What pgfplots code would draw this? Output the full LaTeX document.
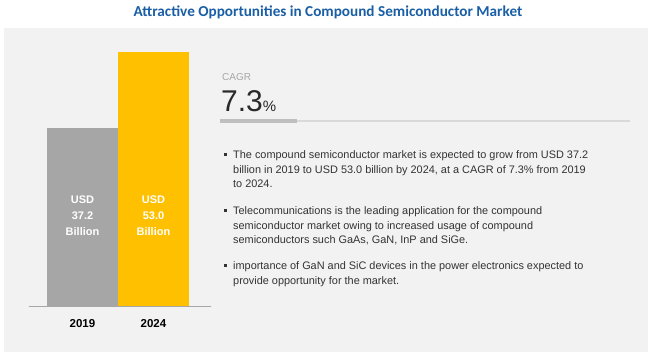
\documentclass[border=0pt]{standalone}
\usepackage{pgfplots}
\pgfplotsset{compat=1.18}
\usepackage{fontspec}
\setmainfont{Liberation Sans}
\newfontfamily\titlefont{Carlito}
\definecolor{titleblue}{HTML}{1A5FA6}
\definecolor{panel}{HTML}{F2F2F2}
\definecolor{bargray}{HTML}{A6A6A6}
\definecolor{baryellow}{HTML}{FFC000}
\definecolor{txt}{HTML}{333333}
\begin{document}
\begin{tikzpicture}
\fill[white] (0pt,0pt) rectangle (650pt,356pt);
\fill[panel] (4pt,4pt) rectangle (648pt,328pt);
\node[font=\titlefont\bfseries\fontsize{15.2}{17}\selectfont, text=titleblue, inner sep=0pt] at (328pt,344pt) {Attractive Opportunities in Compound Semiconductor Market};
\begin{axis}[
  at={(29pt,50pt)}, anchor=south west,
  scale only axis, width=182pt, height=268pt,
  xmin=-0.7535, xmax=1.81, ymin=0, ymax=56,
  enlargelimits=false,
  axis x line=bottom, axis y line=none,
  x axis line style={draw=bargray, line width=0.8pt, -},
  ybar, bar width=71pt, bar shift=0pt,
  xtick={0,1}, xticklabels={2019,2024},
  xtick style={draw=none}, ytick=\empty,
  xticklabel style={font=\bfseries\fontsize{11.5}{13}\selectfont, text=black, yshift=-6pt},
  clip=false,
]
\addplot[fill=bargray, draw=none] coordinates {(0,37.2)};
\addplot[fill=baryellow, draw=none] coordinates {(1,53.0)};
\node[text=white, font=\bfseries\fontsize{11}{16}\selectfont, align=center] at (axis cs:0,18.8) {USD\\37.2\\Billion};
\node[text=white, font=\bfseries\fontsize{11}{16}\selectfont, align=center] at (axis cs:1,18.8) {USD\\53.0\\Billion};
\end{axis}
% CAGR block
\node[anchor=base west, inner sep=0pt, text=bargray, font=\fontsize{10}{12}\selectfont] at (222pt,275pt) {CAGR};
\node[anchor=base west, inner sep=0pt, text=txt!80!black, font=\fontsize{30}{32}\selectfont] at (221pt,244pt) {7.3{\fontsize{15}{16}\selectfont\%}};
\draw[line width=1.5pt, draw=black!15] (220pt,235pt) -- (630pt,235pt);
\draw[line width=3.5pt, draw=black!25] (220pt,235pt) -- (297pt,235pt);
% bullets
\begin{scope}[every node/.style={anchor=base west, inner sep=0pt, text=txt, font=\fontsize{10.9}{12}\selectfont}]
\fill[txt] (223.5pt,199.5pt) rectangle +(3.5pt,3.5pt);
\node at (233pt,197pt) {The compound semiconductor market is expected to grow from USD 37.2};
\node at (233pt,182.5pt) {billion in 2019 to USD 53.0 billion by 2024, at a CAGR of 7.3\% from 2019};
\node at (233pt,168pt) {to 2024.};
\fill[txt] (223.5pt,143.5pt) rectangle +(3.5pt,3.5pt);
\node at (233pt,141pt) {Telecommunications is the leading application for the compound};
\node at (233pt,126.5pt) {semiconductor market owing to increased usage of compound};
\node at (233pt,112pt) {semiconductors such GaAs, GaN, InP and SiGe.};
\fill[txt] (223.5pt,88.5pt) rectangle +(3.5pt,3.5pt);
\node at (233pt,86pt) {importance of GaN and SiC devices in the power electronics expected to};
\node at (233pt,71.5pt) {provide opportunity for the market.};
\end{scope}
\end{tikzpicture}
\end{document}
